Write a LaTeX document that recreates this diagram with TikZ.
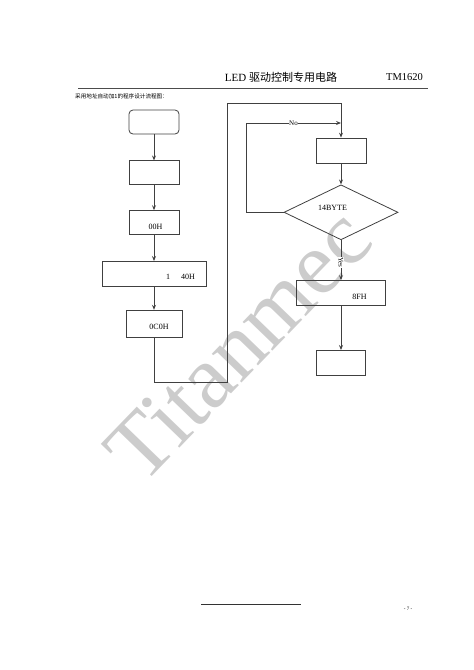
\documentclass[tikz,border=0pt]{standalone}
\usepackage{fontspec}
\setmainfont{Liberation Serif}
\newfontfamily\cjk{Noto Sans CJK SC}
\usetikzlibrary{shapes,arrows,arrows.meta}
\usetikzlibrary{positioning}

\begin{document}
\begin{tikzpicture}[x=1pt,y=-1pt,>={Stealth[length=5pt,width=4pt,inset=1.8pt]},
    box/.style={rectangle,draw=black!75,line width=0.8pt,inner sep=0pt},
    lbl/.style={inner sep=0.5pt,font=\fontsize{8}{8}\selectfont},
    line/.style={draw=black!75,line width=0.8pt}]
\useasboundingbox (0,0) rectangle (474,670);

% watermark
\node[rotate=46,text=black!20,font=\fontsize{90}{90}\selectfont] (wm) at (238,345) {Titanmec};

% header
\node[anchor=center,font=\fontsize{11}{11}\selectfont] (hd) at (281,77) {LED {\cjk 驱动控制专用电路}};
\node[anchor=center,font=\fontsize{10.5}{10.5}\selectfont] (tm) at (404.5,77) {TM1620};
\draw[line width=1pt,black!70] (78,88) -- (428,88);
\node[anchor=west,inner sep=0pt,font=\fontsize{5.6}{5.6}\selectfont\cjk] (sub) at (75,96) {采用地址自动加1的程序设计流程图：};

% left column
\node[box,rounded corners=4pt,minimum width=50pt,minimum height=24pt] (b1) at (154,122) {};
\node[box,minimum width=50pt,minimum height=24pt,below=26pt of b1] (b2) {};
\node[box,minimum width=50pt,minimum height=24pt,below=25pt of b2] (b3) {};
\node[box,minimum width=104pt,minimum height=25pt,below=26pt of b3] (b4) {};
\node[box,minimum width=56pt,minimum height=27pt,below=23pt of b4] (b5) {};

\node[lbl] (t3) at (155.5,227) {00H};
\node[lbl] (t4a) at (168,277) {1};
\node[lbl] (t4b) at (188,277) {40H};
\node[lbl] (t5) at (159,327) {0C0H};

\draw[line,->] (b1) -- (b2);
\draw[line,->] (b2) -- (b3);
\draw[line,->] (b3) -- (b4);
\draw[line,->] (b4) -- (b5);

% right column
\node[box,minimum width=50pt,minimum height=25pt] (b6) at (341,150.5) {};
\node[box,diamond,aspect=2,minimum width=114pt,minimum height=55pt,below=21pt of b6] (d1) {};
\node[box,minimum width=89pt,minimum height=25pt,below=40pt of d1] (b7) {};
\node[box,minimum width=49pt,minimum height=25pt,below=44pt of b7] (b8) {};

\node[lbl] (t6) at (332.5,208) {14BYTE};
\node[lbl] (t7) at (359.5,297) {8FH};

\coordinate (c1) at (227,382);
\coordinate (c2) at (227,103);
\coordinate (c3) at (246,123);
\coordinate (j) at (341,123);

\draw[line,->] (b5.south) |- (c1) -- (c2) -| (b6.north);
\draw[line,->] (d1.west) -| (c3) -- node[lbl,fill=white,font=\fontsize{7}{7}\selectfont] {No} (j);
\draw[line,->] (b6) -- (d1);
\draw[line,->] (d1.south) -- node[lbl,fill=white,rotate=-90,pos=0.55,font=\fontsize{7}{7}\selectfont] {Yes} (b7.north);
\draw[line,->] (b7) -- (b8);

% footer
\draw[line width=1pt,black!80] (201,604) -- (301,604);
\node[font=\fontsize{5}{5}\selectfont] (pg) at (408,609) {- 7 -};
\end{tikzpicture}
\end{document}
